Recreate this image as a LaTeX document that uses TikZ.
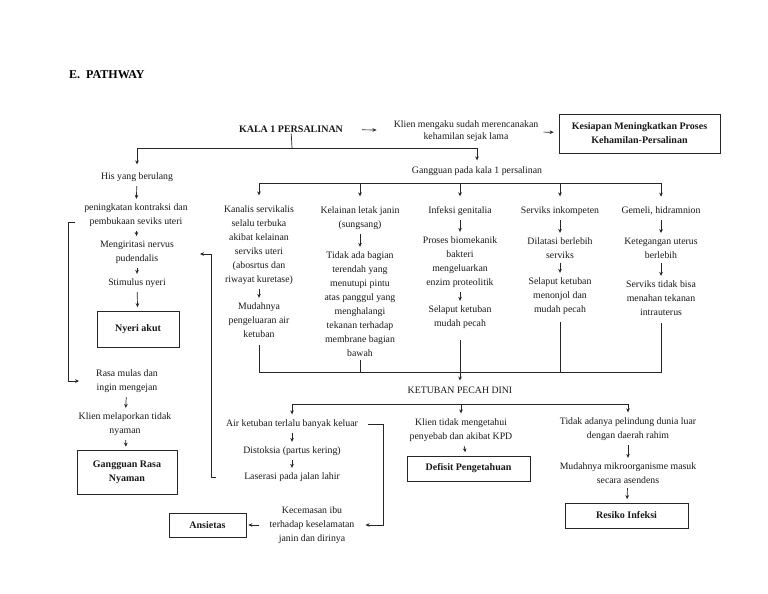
\documentclass[tikz,border=0pt]{standalone}
\usepackage{fontspec}
\setmainfont{Liberation Serif}
\usetikzlibrary{arrows.meta,calc}
\begin{document}
\begin{tikzpicture}[x=1pt,y=-1pt,
  txt/.style={align=center,inner sep=1pt,text=black!90,font=\fontsize{9.8}{14}\selectfont},
  bx/.style={draw=black!85,line width=0.7pt,align=center,inner sep=0pt,text=black!90,font=\fontsize{10}{14}\selectfont\bfseries},
  ln/.style={draw=black!85,line width=0.7pt},
  arr/.style={ln,-{Stealth[length=4pt,width=3.6pt]}},
  sa/.style={arr,shorten <=3.5pt,shorten >=3.5pt}]
\useasboundingbox[fill=white] (0,0) rectangle (768,594);

% title
\node[anchor=west,inner sep=0pt,font=\fontsize{12}{14}\selectfont\bfseries] (title) at (69,75) {E.\ \ PATHWAY};

% top row
\node[txt,font=\fontsize{10}{14}\selectfont\bfseries] (kala) at (291,129) {KALA 1 PERSALINAN};
\node[txt,font=\fontsize{9.8}{12}\selectfont] (klien) at (466,131) {Klien mengaku sudah merencanakan\\kehamilan sejak lama};
\node[bx,minimum width=161pt,minimum height=39pt] (kes) at (639.5,133.5) {Kesiapan Meningkatkan Proses\\Kehamilan-Persalinan};
\draw[arr,shorten <=18pt,shorten >=16pt] (kala) -- (klien);
\draw[arr,shorten <=4pt,shorten >=5pt] (klien) -- (kes);

\coordinate (sp) at (292,148);
\draw[ln] (kala) -- (sp);
\node[txt] (his) at (137,177) {His yang berulang};
\node[txt] (gang) at (477,171) {Gangguan pada kala 1 persalinan};
\draw[arr,shorten >=7pt] (sp) -| (his);
\draw[arr,shorten >=5pt] (sp) -| (gang);

% columns
\coordinate (br) at (259,183);
\node[txt] (c1a) at (259,245) {Kanalis servikalis\\selalu terbuka\\akibat kelainan\\serviks uteri\\(abosrtus dan\\riwayat kuretase)};
\node[txt] (c1b) at (259,320) {Mudahnya\\pengeluaran air\\ketuban};
\node[txt] (c2a) at (360,218) {Kelainan letak janin\\(sungsang)};
\node[txt] (c2b) at (360,304) {Tidak ada bagian\\terendah yang\\menutupi pintu\\atas panggul yang\\menghalangi\\tekanan terhadap\\membrane bagian\\bawah};
\node[txt] (c3a) at (460,211) {Infeksi genitalia};
\node[txt] (c3b) at (460,262) {Proses biomekanik\\bakteri\\mengeluarkan\\enzim proteolitik};
\node[txt] (c3c) at (460,317) {Selaput ketuban\\mudah pecah};
\node[txt] (c4a) at (560,211) {Serviks inkompeten};
\node[txt] (c4b) at (560,248) {Dilatasi berlebih\\serviks};
\node[txt] (c4c) at (560,296) {Selaput ketuban\\menonjol dan\\mudah pecah};
\node[txt] (c5a) at (661,211) {Gemeli, hidramnion};
\node[txt] (c5b) at (661,248) {Ketegangan uterus\\berlebih};
\node[txt] (c5c) at (661,298) {Serviks tidak bisa\\menahan tekanan\\intrauterus};

\draw[ln] (c1a |- br) -- (c5a |- br);
\foreach \n in {c1a,c2a,c3a,c4a,c5a} \draw[arr,shorten >=9pt] (\n |- br) -- (\n);
\draw[sa] (c1a) -- (c1b);
\draw[sa] (c2a) -- (c2b);
\draw[sa] (c3a) -- (c3b);
\draw[sa] (c3b) -- (c3c);
\draw[sa] (c4a) -- (c4b);
\draw[sa] (c4b) -- (c4c);
\draw[sa] (c5a) -- (c5b);
\draw[sa] (c5b) -- (c5c);

% merge
\coordinate (mg) at (259,372);
\draw[ln,shorten <=6pt,shorten >=6pt] (c1b) -- (c1b |- mg) -- (c5c |- mg) -- (c5c);
\draw[ln,shorten <=2pt] (c2b) -- (c2b |- mg);
\draw[ln,shorten <=6pt] (c4c) -- (c4c |- mg);
\node[txt,font=\fontsize{9.8}{12}\selectfont] (kpd) at (460,390) {KETUBAN PECAH DINI};
\draw[arr,shorten <=10pt,shorten >=5pt] (c3c) -- (kpd);

% distribution
\coordinate (dv) at (292,404);
\node[txt] (air) at (292,424) {Air ketuban terlalu banyak keluar};
\node[txt] (dist) at (292,451) {Distoksia (partus kering)};
\node[txt] (las) at (292,477) {Laserasi pada jalan lahir};
\node[txt] (ktm) at (461,430) {Klien tidak mengetahui\\penyebab dan akibat KPD};
\node[bx,minimum width=123pt,minimum height=25pt] (def) at (468.5,468.5) {Defisit Pengetahuan};
\node[txt] (tid) at (628,429) {Tidak adanya pelindung dunia luar\\dengan daerah rahim};
\node[txt] (mud) at (628,473) {Mudahnya mikroorganisme masuk\\secara asendens};
\node[bx,minimum width=123pt,minimum height=25pt] (res) at (626.5,515.5) {Resiko Infeksi};
\draw[ln] (dv) -- (tid |- dv);
\draw[arr,shorten >=4pt] (dv) -- (air);
\draw[arr,shorten >=4pt] (ktm |- dv) -- (ktm);
\draw[arr,shorten >=4pt] (tid |- dv) -- (tid);
\draw[sa] (air) -- (dist);
\draw[sa] (dist) -- (las);
\draw[sa] (ktm) -- (def);
\draw[sa] (tid) -- (mud);
\draw[sa] (mud) -- (res);

\node[txt] (kec) at (312,525) {Kecemasan ibu\\terhadap keselamatan\\janin dan dirinya};
\node[bx,minimum width=77pt,minimum height=24pt] (ans) at (207.5,525) {Ansietas};
\coordinate (rc) at (383,424);
\draw[arr,shorten <=9pt,shorten >=10pt] (air) -- (rc) |- (kec);
\draw[arr,shorten <=9pt,shorten >=2pt] (kec) -- (ans);

% left column
\node[txt] (pen) at (136,215) {peningkatan kontraksi dan\\pembukaan seviks uteri};
\node[txt] (men) at (137,252) {Mengiritasi nervus\\pudendalis};
\node[txt] (sti) at (137,283) {Stimulus nyeri};
\node[bx,minimum width=82pt,minimum height=36pt] (nyeri) at (138,329) {Nyeri akut};
\draw[sa] (his) -- (pen);
\draw[sa] (pen) -- (men);
\draw[sa] (men) -- (sti);
\draw[sa] (sti) -- (nyeri);

\node[txt] (rasa) at (127,381) {Rasa mulas dan\\ingin mengejan};
\node[txt] (kmt) at (125,424) {Klien melaporkan tidak\\nyaman};
\node[bx,minimum width=100pt,minimum height=44pt] (grn) at (127,472.5) {Gangguan Rasa\\Nyaman};
\draw[sa] (rasa) -- (kmt);
\draw[sa] (kmt) -- (grn);

% brackets
\coordinate (lbs) at (75,222);
\coordinate (lbc) at (68,222);
\draw[arr,shorten >=16pt] (lbs) -- (lbc) |- (rasa);
\coordinate (rbs) at (216,477);
\coordinate (rbc) at (211,477);
\coordinate (rbe) at (200,254);
\draw[arr] (rbs) -- (rbc) |- (rbe);
\end{tikzpicture}
\end{document}
